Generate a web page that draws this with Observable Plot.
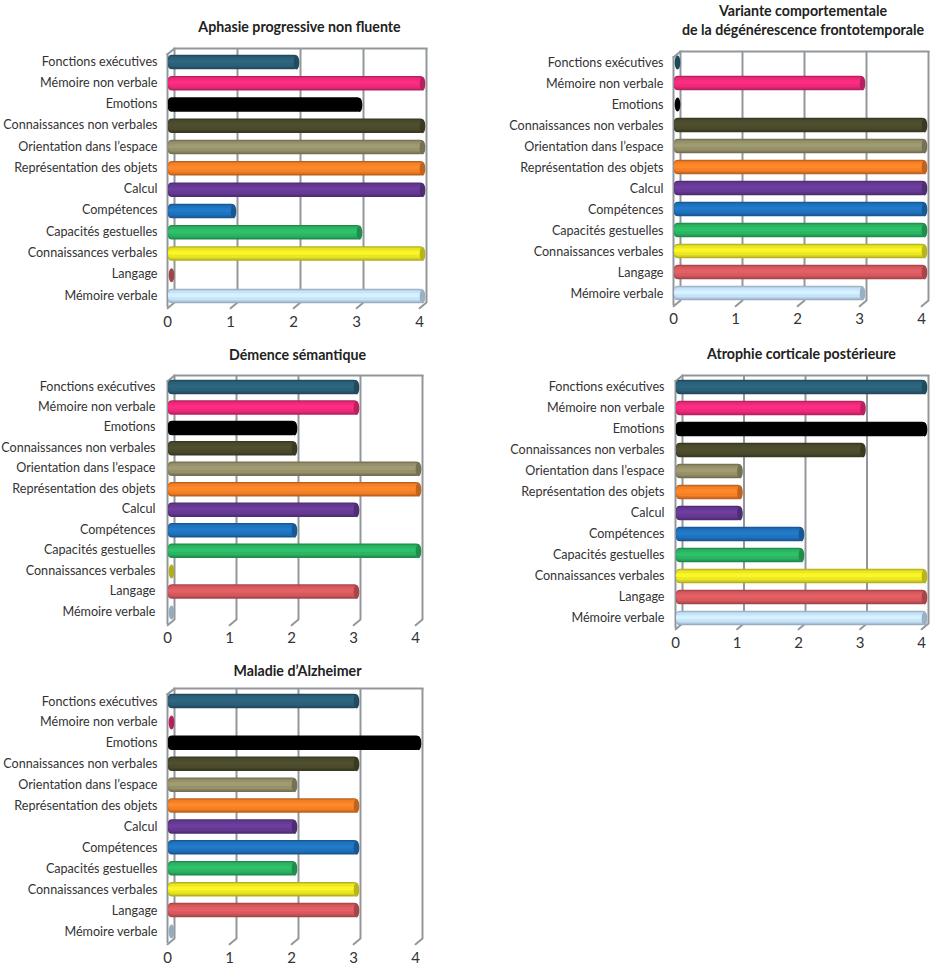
<!DOCTYPE html>
<html lang="fr">
<head>
<meta charset="utf-8">
<script src="https://cdn.jsdelivr.net/npm/d3@7"></script>
<script src="https://cdn.jsdelivr.net/npm/@observablehq/plot@0.6"></script>
<style>
  html, body { margin: 0; padding: 0; background: #fff; }
  #page { position: relative; width: 934px; height: 967px; overflow: hidden; }
  #page > div { position: absolute; }
  svg { display: block; overflow: visible; }
</style>
</head>
<body>
<div id="page"></div>
<script>
const categories = [
  "Fonctions exécutives", "Mémoire non verbale", "Emotions",
  "Connaissances non verbales", "Orientation dans l’espace",
  "Représentation des objets", "Calcul", "Compétences",
  "Capacités gestuelles", "Connaissances verbales", "Langage", "Mémoire verbale"
];
const barColors = [
  "#2b6079", "#ee2a7b", "#000000", "#4a4a2c", "#96916a", "#f58026",
  "#663a94", "#1f72bd", "#2bb563", "#ebe724", "#d75a5f", "#c7e3fa"
];
const tickValues = [0, 1, 2, 3, 4];

const aphasieValues    = [2, 4, 3, 4, 4, 4, 4, 1, 3, 4, 0, 4];
const varianteValues   = [0, 3, 0, 4, 4, 4, 4, 4, 4, 4, 4, 3];
const demenceValues    = [3, 3, 2, 2, 4, 4, 3, 2, 4, 0, 3, 0];
const atrophieValues   = [4, 3, 4, 3, 1, 1, 1, 2, 2, 4, 4, 4];
const alzheimerValues  = [3, 0, 4, 3, 2, 3, 2, 3, 2, 3, 3, 0];

const panels = [
  {title: "Aphasie progressive non fluente", values: aphasieValues,
   left: 0, top: 0, w: 467, h: 340, x0: 174, x4: 426, wall: 48, floor: 302, first: 62, last: 296, titleDx: -1, titleDy: -29, tickDy: 3.5, labelPad: 17, labelDy: -1},
  {title: "Variante comportementale\nde la dégénérescence frontotemporale", values: varianteValues,
   left: 467, top: 0, w: 467, h: 340, x0: 680, x4: 928, wall: 51, floor: 300, first: 62, last: 293, titleDx: -1.5, titleDy: -48, tickDy: 3, labelPad: 17, labelDy: 0},
  {title: "Démence sémantique", values: demenceValues,
   left: 0, top: 340, w: 467, h: 320, x0: 174, x4: 422, wall: 375, floor: 619, first: 387, last: 612, titleDx: -1, titleDy: -28, tickDy: 3, labelPad: 19, labelDy: -1},
  {title: "Atrophie corticale postérieure", values: atrophieValues,
   left: 467, top: 340, w: 467, h: 320, x0: 682, x4: 928, wall: 375, floor: 623, first: 387, last: 618, titleDx: -4, titleDy: -29, tickDy: 4, labelPad: 18, labelDy: -1},
  {title: "Maladie d’Alzheimer", values: alzheimerValues,
   left: 0, top: 660, w: 467, h: 307, x0: 174, x4: 422, wall: 688, floor: 938, first: 701, last: 931, titleDx: -1, titleDy: -25, tickDy: 4, labelPad: 17, labelDy: 0}
];

const wallColor = "#92979b";
const textColor = "#333333";
const textFont = "Lato, 'Noto Sans', sans-serif";

const ellipse = {
  draw(ctx, size) {
    const ry = Math.sqrt(size / Math.PI), rx = ry * 0.4, k = 0.5523;
    ctx.moveTo(0, -ry);
    ctx.bezierCurveTo(k * rx, -ry, rx, -k * ry, rx, 0);
    ctx.bezierCurveTo(rx, k * ry, k * rx, ry, 0, ry);
    ctx.bezierCurveTo(-k * rx, ry, -rx, k * ry, -rx, 0);
    ctx.bezierCurveTo(-rx, -k * ry, -k * rx, -ry, 0, -ry);
    ctx.closePath();
  }
};
const stroke = {
  draw(ctx, l) { ctx.moveTo(0, 0); ctx.lineTo(0, -l); }
};

function drawPanel(p) {
  const rows = categories.map((cat, i) => ({cat, value: p.values[i], colour: barColors[i]}));
  const bars = rows.filter(d => d.value > 0);
  const zeros = rows.filter(d => d.value === 0);
  const step = (p.last - p.first) / (categories.length - 1);
  const pad = (step - 14.5) / 2;
  const shade = (k) => (d) => k >= 0 ? d3.color(d.colour).darker(k).formatHex() : d3.color(d.colour).brighter(-k).formatHex();
  const layer = (k, top, bottom) => Plot.barX(bars, {
    x1: () => 0, x2: "value", y: "cat", fill: shade(k),
    insetLeft: -6, insetRight: 2, insetTop: pad + top, insetBottom: pad + bottom, rx: 4
  });
  const chart = Plot.plot({
    width: p.w,
    height: p.h,
    marginLeft: p.x0 - p.left,
    marginRight: p.left + p.w - p.x4,
    marginTop: p.wall - p.top,
    marginBottom: p.top + p.h - p.floor,
    style: {background: "transparent", overflow: "visible"},
    x: {domain: [0, 4]},
    y: {type: "band", domain: categories, padding: 0, round: false,
        range: [p.first - p.top - step / 2, p.last - p.top + step / 2]},
    color: {type: "identity"},
    marks: [
      Plot.ruleX(tickValues, {stroke: wallColor, strokeWidth: 2}),
      Plot.frame({anchor: "top", stroke: wallColor, strokeWidth: 2}),
      Plot.ruleX([0], {stroke: wallColor, strokeWidth: 2, dx: -7, dy: 5}),
      Plot.vector(tickValues, {x: d => d, frameAnchor: "bottom", length: 9, rotate: 230, anchor: "start",
        shape: stroke, stroke: wallColor, strokeWidth: 2}),
      Plot.vector([0], {x: d => d, frameAnchor: "top", length: 9, rotate: 230, anchor: "start",
        shape: stroke, stroke: wallColor, strokeWidth: 2}),
      layer(0.75, 0, 0),
      layer(0.3, 1, 1.5),
      layer(0, 2, 3),
      layer(-0.18, 4.5, 6),
      Plot.dot(bars, {x: "value", y: "cat", r: 7, symbol: ellipse, dx: -4, fill: shade(0.7), stroke: "none"}),
      Plot.dot(zeros, {x: () => 0, y: "cat", r: 7, symbol: ellipse, dx: -3, fill: shade(0.8), stroke: "none"}),
      Plot.axisY({tickSize: 0, tickPadding: p.labelPad, dy: p.labelDy, label: null, fontSize: 12.6, fill: textColor, fontFamily: textFont}),
      Plot.axisX({ticks: tickValues, tickSize: 0, tickPadding: 10, dx: -7, dy: p.tickDy, label: null,
        tickFormat: d => String(d), fontSize: 15, fill: textColor, fontFamily: textFont}),
      Plot.text([p.title], {x: () => 2, frameAnchor: "top", dx: p.titleDx, dy: p.titleDy, text: d => d, lineHeight: 1.28,
        fontSize: 14.2, fontWeight: 700, fill: "#222", fontFamily: textFont})
    ]
  });
  const holder = document.createElement("div");
  holder.style.left = p.left + "px";
  holder.style.top = p.top + "px";
  holder.append(chart);
  document.getElementById("page").append(holder);
}
panels.forEach(drawPanel);
</script>
</body>
</html>
